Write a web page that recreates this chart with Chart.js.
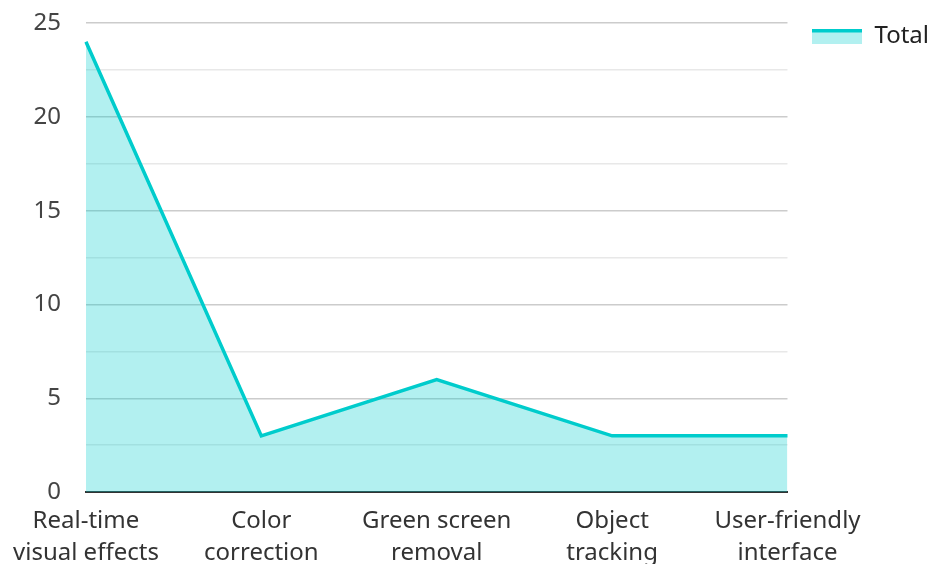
<!DOCTYPE html>
<html>
<head>
<meta charset="utf-8">
<script src="https://cdn.jsdelivr.net/npm/chart.js@4"></script>
<style>
  html, body { margin: 0; padding: 0; background: #fff; }
  #wrap { width: 928px; height: 564px; }
</style>
</head>
<body>
<div id="wrap"><canvas id="chart"></canvas></div>
<script>
const categories = [
    ['Real-time', 'visual effects'],
    ['Color', 'correction'],
    ['Green screen', 'removal'],
    ['Object', 'tracking'],
    ['User-friendly', 'interface']
];
const totals = [24, 3, 6, 3, 3];
const seriesName = 'Total';

const lineColor = '#00cccc';
const fillColor = 'rgba(0, 204, 204, 0.3)';

// legend swatch: line on top, fill below
function makeSwatch() {
    const c = document.createElement('canvas');
    c.width = 50;
    c.height = 15;
    const g = c.getContext('2d');
    g.fillStyle = fillColor;
    g.fillRect(0, 0, 50, 15);
    g.fillStyle = lineColor;
    g.fillRect(0, 0, 50, 4);
    return c;
}

Chart.defaults.font.family = '"Noto Sans", "Open Sans", sans-serif';

const ctx = document.getElementById('chart').getContext('2d');
const chart = new Chart(ctx, {
    type: 'line',
    data: {
        labels: categories,
        datasets: [{
            label: seriesName,
            data: totals,
            borderColor: lineColor,
            backgroundColor: fillColor,
            borderWidth: 3.5,
            fill: 'origin',
            tension: 0,
            pointRadius: 0,
            pointHoverRadius: 0,
            pointStyle: makeSwatch()
        }]
    },
    options: {
        responsive: true,
        maintainAspectRatio: false,
        animation: false,
        layout: { padding: { left: 7, right: -11, top: -17, bottom: -18 } },
        plugins: {
            tooltip: { enabled: false },
            legend: {
                position: 'right',
                align: 'start',
                // empty title only used as a spacer above the item
                title: {
                    display: true,
                    text: ' ',
                    font: { size: 10, lineHeight: 1.2 },
                    padding: { top: 4, bottom: 0 }
                },
                labels: {
                    usePointStyle: true,
                    pointStyleWidth: 50,
                    boxHeight: 15,
                    padding: 25,
                    color: '#222',
                    font: { size: 24 }
                }
            }
        },
        scales: {
            x: {
                offset: false,
                grid: { display: false, drawTicks: false },
                border: { display: true, color: '#333', width: 2 },
                ticks: {
                    color: '#333',
                    font: { size: 24, lineHeight: 1.33 },
                    padding: 13,
                    maxRotation: 0,
                    autoSkip: false
                }
            },
            y: {
                min: 0,
                max: 25,
                afterFit: (scale) => {
                    scale.paddingTop = 23;
                    scale.paddingBottom = 14;
                },
                grid: {
                    drawTicks: false,
                    color: (c) => (c.tick && c.tick.value % 5 === 0) ? '#cccccc' : '#e8e8e8',
                    lineWidth: 1.5
                },
                border: { display: false },
                ticks: {
                    stepSize: 2.5,
                    color: '#444',
                    font: { size: 24 },
                    padding: 25,
                    callback: (v) => (v % 5 === 0 ? v : '')
                }
            }
        }
    }
});
</script>
</body>
</html>
